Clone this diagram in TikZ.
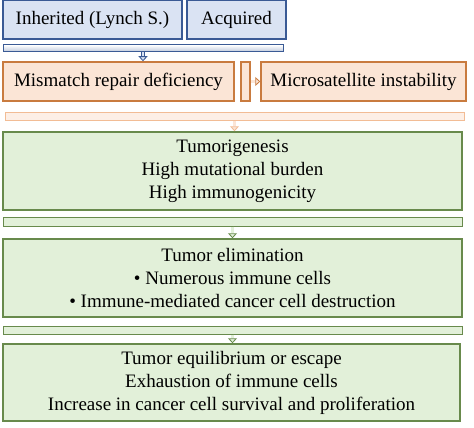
\documentclass[tikz,border=0pt]{standalone}
\usepackage{fontspec}
\setmainfont{Liberation Serif}
\usetikzlibrary{arrows.meta}
\definecolor{bline}{HTML}{3A5A95}
\definecolor{bfill}{HTML}{DAE3F3}
\definecolor{oline}{HTML}{C97B3F}
\definecolor{ofill}{HTML}{FBE5D6}
\definecolor{olight}{HTML}{F2BC95}
\definecolor{gline}{HTML}{688A4C}
\definecolor{gfill}{HTML}{E2F0D9}
\tikzset{
  box/.style 2 args={draw=#1, fill=#2, line width=1.5pt, inner sep=0pt,
    align=center, font=\fontsize{19}{23}\selectfont},
  bar/.style 2 args={draw=#1, fill=#2, line width=1pt, inner sep=0pt},
  link/.style 2 args={draw=#1, line width=0.8pt, double=#2, double distance=2.2pt,
    -{Triangle[width=9pt,length=5pt,fill=#2]}}
}
\begin{document}
\begin{tikzpicture}[x=1pt,y=-1pt]
\useasboundingbox (0,0) rectangle (474,428);
% causes
\node [box={bline}{bfill}, minimum width=179pt, minimum height=39pt] (inh) at (92.5,19.5) {Inherited (Lynch S.)};
\node [box={bline}{bfill}, minimum width=99pt, minimum height=39pt] (acq) at (236.5,19.5) {Acquired};
\node [bar={bline}{bfill}, minimum width=280pt, minimum height=7pt,
  top color=white, bottom color=bline!35] (bbar) at (143,48.5) {};
% mismatch repair
\node [box={oline}{ofill}, minimum width=231pt, minimum height=39pt] (mmr) at (118.5,81.5) {Mismatch repair deficiency};
\node [bar={oline}{ofill}, line width=1.5pt, minimum width=9pt, minimum height=39pt] (obar) at (245.5,81.5) {};
\node [box={oline}{ofill}, minimum width=205pt, minimum height=39pt] (msi) at (363.5,81.5) {Microsatellite instability};
\node [bar={olight}{ofill!60}, minimum width=459pt, minimum height=8pt] (lbar) at (234.5,116) {};
% tumour stages
\node [box={gline}{gfill}, minimum width=459pt, minimum height=78pt] (tum) at (232.5,171)
  {Tumorigenesis\\High mutational burden\\High immunogenicity};
\node [bar={gline}{gfill}, minimum width=459pt, minimum height=9pt] (gbar1) at (232.5,221.5) {};
\node [box={gline}{gfill}, minimum width=459pt, minimum height=78pt] (elim) at (232.5,278)
  {Tumor elimination\\\textbullet{} Numerous immune cells\\\textbullet{} Immune-mediated cancer cell destruction};
\node [bar={gline}{gfill}, minimum width=459pt, minimum height=8pt] (gbar2) at (232.5,330) {};
\node [box={gline}{gfill}, minimum width=457pt, minimum height=77pt] (esc) at (231.5,382.5)
  {Tumor equilibrium or escape\\Exhaustion of immune cells\\Increase in cancer cell survival and proliferation};
% arrows
\draw [link={bline}{bfill}] (bbar.south) -- (bbar.south |- mmr.north);
\draw [link={oline}{ofill}] (obar.east) -- (msi.west);
\draw [link={olight}{ofill}] (lbar.south) -- (lbar.south |- tum.north);
\draw [link={gline}{gfill}] (gbar1.south) -- (gbar1.south |- elim.north);
\draw [link={gline}{gfill}] (gbar2.south) -- (gbar2.south |- esc.north);
\end{tikzpicture}
\end{document}
